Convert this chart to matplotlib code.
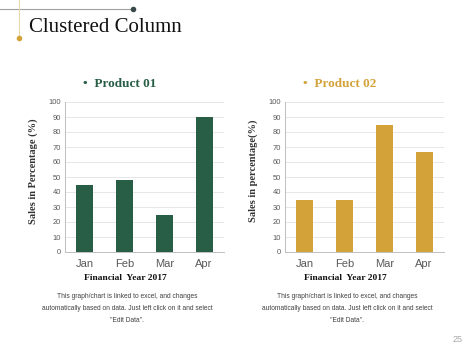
import matplotlib.pyplot as plt
import numpy as np

months = ['Jan', 'Feb', 'Mar', 'Apr']
product_01 = [45, 48, 25, 90]
product_02 = [35, 35, 85, 67]
y_ticks = list(range(0, 101, 10))

green = '#285e45'
gold = '#d3a33a'
note = 'This graph/chart is linked to excel, and changes\nautomatically based on data. Just left click on it and select\n"Edit Data".'

W, H = 474, 355
dpi = 100
fig = plt.figure(dpi=dpi, figsize=(W / dpi, H / dpi))


def px(x, y):
    return x / W, 1 - y / H


# slide decoration
fig.add_artist(plt.Line2D([0, 133 / W], [1 - 9 / H] * 2, color='#a0a0a0', lw=0.8))
fig.add_artist(plt.Line2D([133 / W], [1 - 9 / H], marker='o', ms=3, color='#3a4a4a'))
fig.add_artist(plt.Line2D([19 / W] * 2, [1, 1 - 38 / H], color='#e8d9a8', lw=0.8))
fig.add_artist(plt.Line2D([19 / W], [1 - 38 / H], marker='o', ms=3, color='#d3a33a'))
fig.text(*px(29, 27), 'Clustered Column', family='Liberation Serif', fontsize=15,
         va='center', ha='left', color='#111111')


def panel(left, values, color, title, ylabel, cx):
    ax = fig.add_axes([left / W, 1 - 252 / H, 159 / W, 150 / H])
    x = np.arange(len(months))
    ax.bar(x, values, width=0.43, color=color, zorder=3)
    ax.set_xlim(-0.5, len(months) - 0.5)
    ax.set_ylim(0, 100)
    ax.set_yticks(y_ticks)
    ax.set_xticks(x)
    ax.set_xticklabels(months)
    ax.grid(axis='y', color='#e3e3e3', lw=0.6, zorder=0)
    for s in ['top', 'right']:
        ax.spines[s].set_visible(False)
    for s in ['left', 'bottom']:
        ax.spines[s].set_color('#bfbfbf')
        ax.spines[s].set_linewidth(0.7)
    ax.tick_params(axis='y', length=0, labelsize=5.4, colors='#595959', pad=3)
    ax.tick_params(axis='x', length=0, labelsize=8, colors='#595959', pad=5)
    for lab in ax.get_xticklabels() + ax.get_yticklabels():
        lab.set_family('Liberation Sans')

    fig.text(*px(cx - 5, 84), '•  ' + title, family='Liberation Serif', fontweight='bold',
             fontsize=9.5, color=color, ha='center', va='center')
    fig.text(*px(left - 32, 171), ylabel, family='Liberation Serif', fontweight='bold',
             fontsize=7.5, color='#333333', rotation=90, ha='center', va='center')
    fig.text(*px(cx, 278), 'Financial  Year 2017', family='Liberation Serif', fontweight='bold',
             fontsize=6.8, color='#111111', ha='center', va='center')
    fig.text(*px(cx + 2, 308), note, family='Liberation Sans', fontsize=4.8,
             color='#404040', ha='center', va='center', linespacing=2.0)
    return ax


panel(65, product_01, green, 'Product 01', 'Sales in Percentage (%)', 125)
panel(285, product_02, gold, 'Product 02', 'Sales in percentage(%)', 345)

fig.text(*px(458, 339), '25', family='Liberation Sans', fontsize=6.5, color='#a6a6a6',
         ha='center', va='center')

fig.savefig('out.png', dpi=dpi)
